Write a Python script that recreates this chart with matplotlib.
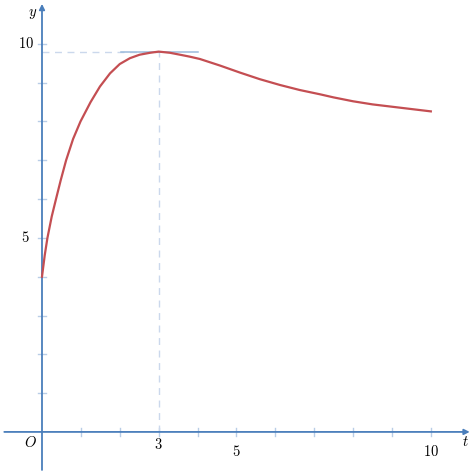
import numpy as np
import matplotlib
matplotlib.use('Agg')
import matplotlib.pyplot as plt

plt.rcParams['mathtext.fontset'] = 'cm'
plt.rcParams['font.family'] = 'DejaVu Serif'

##################################################################
# Data
##################################################################
t_vals = [0, 0.07, 0.14, 0.25, 0.36, 0.48, 0.62, 0.8, 0.99, 1.25, 1.49, 1.75,
          2.0, 2.26, 2.51, 2.78, 3.0, 3.29, 3.55, 3.8, 4.06, 4.58, 5.09, 5.6,
          6.12, 6.63, 7.15, 7.5, 8.0, 8.5, 9.0, 9.5, 10.0]
y_vals = [4.0, 4.55, 5.0, 5.55, 6.0, 6.48, 7.0, 7.55, 8.0, 8.5, 8.9, 9.24,
          9.48, 9.63, 9.72, 9.77, 9.8, 9.77, 9.72, 9.67, 9.61, 9.44, 9.26, 9.09,
          8.94, 8.81, 8.7, 8.62, 8.52, 8.44, 8.38, 8.32, 8.26]

t_max, y_max = 3, 9.8
x_ticks = list(range(1, 11))
y_ticks = list(range(1, 11))
x_labels = {3: '3', 5: '5', 10: '10'}
y_labels = {5: '5', 10: '10'}

axis_col = '#4a7ebb'
tick_col = '#b9cde6'
curve_col = '#c44e52'
dash_col = '#cbd8ec'

##################################################################
# Plot figure
##################################################################
fig = plt.figure(figsize=(4.74, 4.75), dpi=100)
ax = fig.add_axes([0, 0, 1, 1])
ax.set_xlim(-1.08, 11.11)
ax.set_ylim(-1.11, 11.13)
ax.axis('off')

# axes with arrows
ax.annotate('', xy=(11.0, 0), xytext=(-0.97, 0),
            arrowprops=dict(arrowstyle='-|>', color=axis_col, lw=1.3,
                            mutation_scale=8, shrinkA=0, shrinkB=0))
ax.annotate('', xy=(0, 11.03), xytext=(0, -0.98),
            arrowprops=dict(arrowstyle='-|>', color=axis_col, lw=1.3,
                            mutation_scale=8, shrinkA=0, shrinkB=0))

# tick marks
for x in x_ticks:
    ax.plot([x, x], [-0.1, 0.1], color=tick_col, lw=1, zorder=1)
for y in y_ticks:
    ax.plot([-0.1, 0.1], [y, y], color=tick_col, lw=1, zorder=1)

# helper lines at the maximum
ax.plot([0, t_max], [y_max, y_max], color=dash_col, lw=1, ls=(0, (5, 4)), zorder=1)
ax.plot([t_max, t_max], [0, y_max], color=dash_col, lw=1, ls=(0, (5, 4)), zorder=1)
ax.plot([t_max - 0.98, t_max + 1.0], [y_max, y_max], color='#9bbbdc', lw=1.1, zorder=2)

# curve
ax.plot(t_vals, y_vals, color=curve_col, lw=1.6, zorder=3,
        solid_joinstyle='round')

# labels
for x, lab in x_labels.items():
    dy = -0.32 if x == 3 else -0.5
    ax.text(x, dy, '$' + lab + '$', ha='center', va='center', fontsize=10.5)
for y, lab in y_labels.items():
    ax.text(-0.42, y, '$' + lab + '$', ha='center', va='center', fontsize=10.5)
ax.text(-0.3, -0.28, '$O$', ha='center', va='center', fontsize=10.5)
ax.text(10.9, -0.26, '$t$', ha='center', va='center', fontsize=10.5)
ax.text(-0.23, 10.78, '$y$', ha='center', va='center', fontsize=10.5)

plt.savefig('out.png', dpi=100)
